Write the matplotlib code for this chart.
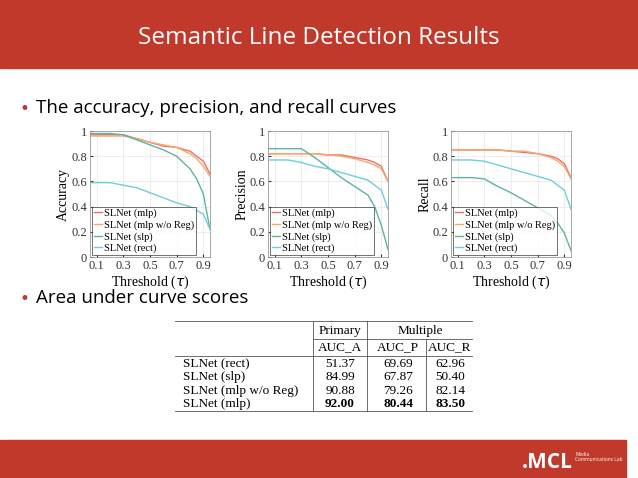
import matplotlib
matplotlib.use("Agg")
import matplotlib.pyplot as plt
from matplotlib.patches import Rectangle

# ---- data ----
thresholds = [0.05, 0.1, 0.2, 0.3, 0.4, 0.5, 0.6, 0.7, 0.8, 0.85, 0.9, 0.95]
series_names = ["SLNet (mlp)", "SLNet (mlp w/o Reg)", "SLNet (slp)", "SLNet (rect)"]
series_colors = ["#E8706A", "#F5A96B", "#5DB3A6", "#6CCFD9"]

accuracy = [
    [0.97, 0.97, 0.97, 0.97, 0.94, 0.91, 0.88, 0.87, 0.84, 0.80, 0.76, 0.66],
    [0.96, 0.96, 0.96, 0.96, 0.94, 0.91, 0.89, 0.87, 0.82, 0.78, 0.72, 0.64],
    [0.98, 0.98, 0.98, 0.97, 0.93, 0.89, 0.85, 0.80, 0.70, 0.62, 0.50, 0.22],
    [0.59, 0.59, 0.59, 0.57, 0.55, 0.51, 0.47, 0.43, 0.40, 0.37, 0.34, 0.22],
]
precision = [
    [0.82, 0.82, 0.82, 0.82, 0.82, 0.81, 0.81, 0.79, 0.77, 0.75, 0.72, 0.60],
    [0.82, 0.82, 0.82, 0.82, 0.82, 0.81, 0.80, 0.78, 0.75, 0.73, 0.70, 0.60],
    [0.86, 0.86, 0.86, 0.86, 0.79, 0.71, 0.63, 0.56, 0.49, 0.40, 0.25, 0.06],
    [0.77, 0.77, 0.77, 0.75, 0.72, 0.70, 0.67, 0.64, 0.61, 0.57, 0.53, 0.38],
]
recall = [
    [0.85, 0.85, 0.85, 0.85, 0.85, 0.84, 0.83, 0.82, 0.80, 0.78, 0.74, 0.63],
    [0.85, 0.85, 0.85, 0.85, 0.85, 0.84, 0.84, 0.82, 0.79, 0.76, 0.72, 0.62],
    [0.63, 0.63, 0.63, 0.62, 0.56, 0.51, 0.45, 0.39, 0.33, 0.27, 0.19, 0.05],
    [0.77, 0.77, 0.77, 0.76, 0.73, 0.70, 0.67, 0.64, 0.61, 0.57, 0.53, 0.38],
]

table_cols = ["AUC_A", "AUC_P", "AUC_R"]
table_rows = ["SLNet (rect)", "SLNet (slp)", "SLNet (mlp w/o Reg)", "SLNet (mlp)"]
table_vals = [
    ["51.37", "69.69", "62.96"],
    ["84.99", "67.87", "50.40"],
    ["90.88", "79.26", "82.14"],
    ["92.00", "80.44", "83.50"],
]

W, H = 638, 478
RED = "#C0392B"
fig = plt.figure(figsize=(W / 100, H / 100), dpi=100)


def px(x, y):
    # pixel coords (top-left origin) -> figure fraction
    return x / W, 1 - y / H


# header and footer bands
fig.patches.append(Rectangle((0, 1 - 68 / H), 1, 68 / H, transform=fig.transFigure,
                             color=RED, zorder=0))
fig.patches.append(Rectangle((0, 0), 626 / W, 38 / H, transform=fig.transFigure,
                             color=RED, zorder=0))
fig.text(*px(319, 38), "Semantic Line Detection Results", color="white",
         fontsize=17.5, family="Open Sans", ha="center", va="center")
fig.text(*px(573, 462), ".MCL", color="white", fontsize=15, family="Open Sans",
         fontweight="bold", ha="right", va="center")
fig.text(*px(575, 457), "Media\nCommunications Lab", color="white", fontsize=3.5,
         family="Open Sans", ha="left", va="center", linespacing=1.0)

fig.text(*px(20, 109), "\u2022", color=RED, fontsize=12, va="center")
fig.text(*px(36, 108), "The accuracy, precision, and recall curves", fontsize=13.5,
         family="Open Sans", va="center")
fig.text(*px(20, 299), "\u2022", color=RED, fontsize=12, va="center")
fig.text(*px(36, 298), "Area under curve scores", fontsize=13.5,
         family="Open Sans", va="center")

serif = "Liberation Serif"
panels = [(90, "Accuracy", accuracy), (268, "Precision", precision), (451, "Recall", recall)]
for left, ylabel, data in panels:
    x0, y0 = px(left, 257)
    ax = fig.add_axes([x0, y0, 120 / W, 126 / H])
    for name, col, vals in zip(series_names, series_colors, data):
        ax.plot(thresholds, vals, color=col, lw=1.0, label=name)
    ax.set_xlim(0.05, 0.95)
    ax.set_ylim(0, 1)
    ax.set_xticks([0.1, 0.3, 0.5, 0.7, 0.9])
    ax.set_xticklabels(["0.1", "0.3", "0.5", "0.7", "0.9"])
    ax.set_yticks([0, 0.2, 0.4, 0.6, 0.8, 1])
    ax.set_yticklabels(["0", "0.2", "0.4", "0.6", "0.8", "1"])
    ax.grid(True, color="#e6e6e6", lw=0.5)
    ax.tick_params(labelsize=9, length=2, direction="in", colors="#333333", pad=2)
    for lab in ax.get_xticklabels() + ax.get_yticklabels():
        lab.set_family(serif)
    for s in ax.spines.values():
        s.set_color("#999999")
        s.set_linewidth(0.6)
    ax.set_xlabel("Threshold ($\\tau$)", fontsize=10, family=serif, labelpad=1)
    ax.set_ylabel(ylabel, fontsize=10, family=serif, labelpad=1)
    leg = ax.legend(loc="lower left", prop={"family": serif, "size": 7.5},
                    frameon=True, fancybox=False, borderpad=0.2, labelspacing=0.2,
                    handlelength=0.8, handletextpad=0.2, borderaxespad=0.15)
    leg.get_frame().set_edgecolor("#333333")
    leg.get_frame().set_linewidth(0.6)

# table
tfs = 9.5
col_x = [183, 340, 398, 450]
row_y = [347, 364, 377, 391, 404]
line = dict(color="#555555", lw=0.6)
fig.add_artist(plt.Line2D([175 / W, 472 / W], [1 - 321 / H] * 2, transform=fig.transFigure, **line))
fig.add_artist(plt.Line2D([313 / W, 472 / W], [1 - 339 / H] * 2, transform=fig.transFigure, **line))
fig.add_artist(plt.Line2D([175 / W, 472 / W], [1 - 356 / H] * 2, transform=fig.transFigure, **line))
fig.add_artist(plt.Line2D([175 / W, 472 / W], [1 - 411 / H] * 2, transform=fig.transFigure, **line))
for xv, y_top in [(313, 321), (367, 321), (426, 339)]:
    fig.add_artist(plt.Line2D([xv / W] * 2, [1 - y_top / H, 1 - 411 / H],
                              transform=fig.transFigure, **line))
fig.text(*px(340, 331), "Primary", fontsize=tfs, family=serif, ha="center", va="center")
fig.text(*px(420, 331), "Multiple", fontsize=tfs, family=serif, ha="center", va="center")
for cx, c in zip(col_x[1:], table_cols):
    fig.text(*px(cx, row_y[0]), c, fontsize=tfs, family=serif, ha="center", va="center")
for i, (rname, vals) in enumerate(zip(table_rows, table_vals)):
    y = row_y[i + 1]
    fig.text(*px(col_x[0], y), rname, fontsize=tfs, family=serif, va="center")
    bold = i == len(table_rows) - 1
    for cx, v in zip(col_x[1:], vals):
        fig.text(*px(cx, y), v, fontsize=tfs, family=serif, ha="center", va="center",
                 fontweight="bold" if bold else "normal")

fig.savefig("out.png", dpi=100)
